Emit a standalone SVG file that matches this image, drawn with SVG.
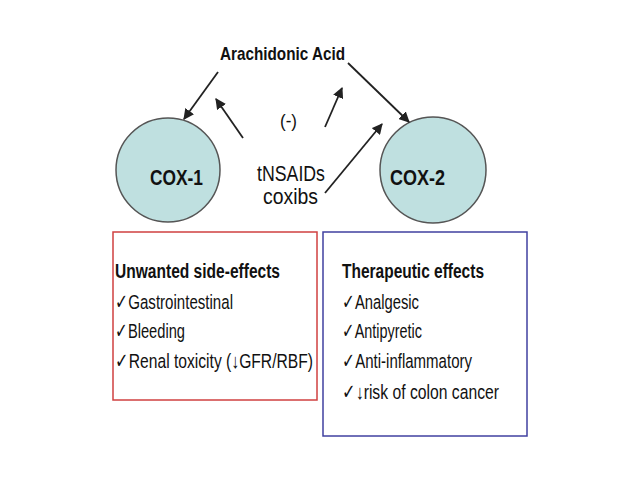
<svg xmlns="http://www.w3.org/2000/svg" width="638" height="479" viewBox="0 0 638 479">
<style>
text{font-family:"Liberation Sans",Arial,sans-serif;fill:#111}
.b{font-weight:bold}
.n{font-size:20.5px}
.node{fill:#bfe0e0;stroke:#555;stroke-width:1.5}
.c line{stroke:#222;stroke-width:1.8;marker-end:url(#a)}
</style>
<defs><marker id="a" viewBox="0 0 10 10" refX="9" refY="5" markerWidth="6" markerHeight="6" orient="auto"><path d="M0,0L10,5L0,10z" fill="#222"/></marker></defs>
<rect width="638" height="479" fill="#fff"/>
<g id="aa"><text class="b" x="220" y="60" font-size="19" textLength="125" lengthAdjust="spacingAndGlyphs">Arachidonic Acid</text></g>
<g id="cox1"><circle class="node" cx="168" cy="170" r="52"/><text class="b" x="150" y="185" font-size="22" textLength="53" lengthAdjust="spacingAndGlyphs">COX-1</text></g>
<g id="cox2"><circle class="node" cx="433" cy="170" r="53"/><text class="b" x="390" y="185" font-size="22" textLength="55" lengthAdjust="spacingAndGlyphs">COX-2</text></g>
<g id="drugs"><text x="280" y="127" font-size="18" textLength="17" lengthAdjust="spacingAndGlyphs">(-)</text>
<text x="257" y="181" font-size="22" textLength="68" lengthAdjust="spacingAndGlyphs">tNSAIDs</text>
<text x="263" y="204" font-size="22" textLength="55" lengthAdjust="spacingAndGlyphs">coxibs</text></g>
<g class="c" id="connectors">
<line x1="218" y1="72" x2="184" y2="119"/>
<line x1="243" y1="138" x2="216" y2="99"/>
<line x1="325" y1="127" x2="342" y2="88"/>
<line x1="348" y1="63" x2="409" y2="122"/>
<line x1="325" y1="193" x2="382" y2="124"/>
</g>
<g id="side"><rect x="113" y="232" width="204" height="168" fill="none" stroke="#d04040" stroke-width="1.5"/>
<text class="b" x="115" y="278" font-size="20" textLength="165" lengthAdjust="spacingAndGlyphs">Unwanted side-effects</text>
<text class="n" x="115" y="309" textLength="118" lengthAdjust="spacingAndGlyphs">✓Gastrointestinal</text>
<text class="n" x="115" y="338" textLength="70" lengthAdjust="spacingAndGlyphs">✓Bleeding</text>
<text class="n" x="115" y="368" textLength="198" lengthAdjust="spacingAndGlyphs">✓Renal toxicity (↓GFR/RBF)</text></g>
<g id="ther"><rect x="323" y="232" width="204" height="204" fill="none" stroke="#4040a0" stroke-width="1.5"/>
<text class="b" x="342" y="278" font-size="20" textLength="142" lengthAdjust="spacingAndGlyphs">Therapeutic effects</text>
<text class="n" x="342" y="309" textLength="77" lengthAdjust="spacingAndGlyphs">✓Analgesic</text>
<text class="n" x="342" y="338" textLength="80" lengthAdjust="spacingAndGlyphs">✓Antipyretic</text>
<text class="n" x="342" y="368" textLength="130" lengthAdjust="spacingAndGlyphs">✓Anti-inflammatory</text>
<text class="n" x="342" y="399" textLength="157" lengthAdjust="spacingAndGlyphs">✓↓risk of colon cancer</text></g>
</svg>
